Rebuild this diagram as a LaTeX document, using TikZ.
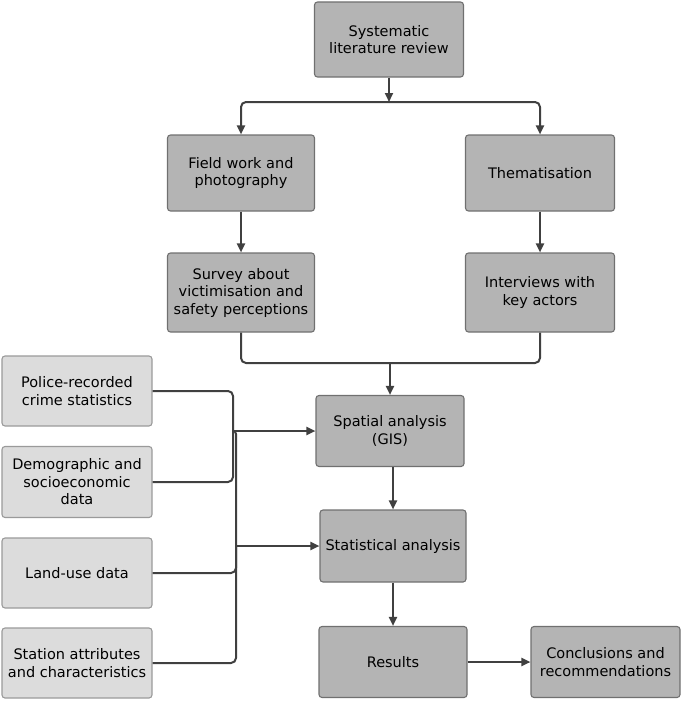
\documentclass[tikz,border=0pt]{standalone}
\usepackage{fontspec}
\setmainfont{DejaVu Sans}
\usetikzlibrary{arrows.meta}
\definecolor{darkfill}{HTML}{B4B4B4}
\definecolor{darkdraw}{HTML}{707070}
\definecolor{lightfill}{HTML}{DCDCDC}
\definecolor{lightdraw}{HTML}{9A9A9A}
\definecolor{linecol}{HTML}{404040}
\tikzset{
  box/.style={draw=darkdraw, fill=darkfill, line width=1.1pt, rounded corners=3pt,
    align=center, inner sep=2pt, font=\fontsize{14.5}{17.5}\selectfont},
  lbox/.style={box, draw=lightdraw, fill=lightfill},
  conn/.style={draw=linecol, line width=2pt, rounded corners=5pt},
  arr/.style={conn, -{Triangle[length=9pt,width=8pt]}},
}
\begin{document}
\begin{tikzpicture}[x=1pt,y=-1pt]
\useasboundingbox (0,0) rectangle (685,701);
\node[box, minimum width=149pt, minimum height=75pt] (top) at (389,39.5) {Systematic\\literature review};
\node[box, minimum width=147pt, minimum height=76pt] (field) at (241,173) {Field work and\\photography};
\node[box, minimum width=149pt, minimum height=76pt] (them) at (540,173) {Thematisation};
\node[box, minimum width=147pt, minimum height=79pt] (survey) at (241,292.5) {Survey about\\victimisation and\\safety perceptions};
\node[box, minimum width=149pt, minimum height=79pt] (interv) at (540,292.5) {Interviews with\\key actors};
\node[box, minimum width=148pt, minimum height=71pt] (spatial) at (390,431) {Spatial analysis\\(GIS)};
\node[box, minimum width=146pt, minimum height=72pt] (stat) at (393,546) {Statistical analysis};
\node[box, minimum width=148pt, minimum height=71pt] (results) at (393,662) {Results};
\node[box, minimum width=149pt, minimum height=71pt] (concl) at (605.5,662) {Conclusions and\\recommendations};
\node[lbox, minimum width=150pt, minimum height=70pt] (police) at (77,391) {Police-recorded\\crime statistics};
\node[lbox, minimum width=150pt, minimum height=71pt] (demo) at (77,482) {Demographic and\\socioeconomic\\data};
\node[lbox, minimum width=150pt, minimum height=70pt] (land) at (77,573) {Land-use data};
\node[lbox, minimum width=150pt, minimum height=70pt] (station) at (77,663) {Station attributes\\and characteristics};
% top split
\coordinate (split) at (389,102);
\draw[arr] (top.south) -- (split);
\draw[arr] (split) -| (field.north);
\draw[arr] (split) -| (them.north);
% field -> survey, them -> interv
\draw[arr] (field.south) -- (survey.north);
\draw[arr] (them.south) -- (interv.north);
% merge
\coordinate (merge) at (390,363);
\draw[conn] (survey.south) |- (merge);
\draw[conn] (interv.south) |- (merge);
\draw[arr] (merge) -- (spatial.north);
% vertical chain
\draw[arr] (stat.north |- spatial.south) -- (stat.north);
\draw[arr] (stat.south) -- (results.north);
\draw[arr] (results.east) -- (concl.west);
% left inputs
\coordinate (j1) at (233,431);
\coordinate (j2) at (236,546);
\draw[conn] (police.east) -| (j1);
\draw[conn] (demo.east) -| (j1);
\draw[arr] (j1) -- (spatial.west);
\draw[conn, rounded corners=3pt] (j1) -| (j2);
\draw[conn] (land.east) -| (j2);
\draw[conn] (station.east) -| (j2);
\draw[arr] (j2) -- (stat.west);
\end{tikzpicture}
\end{document}
